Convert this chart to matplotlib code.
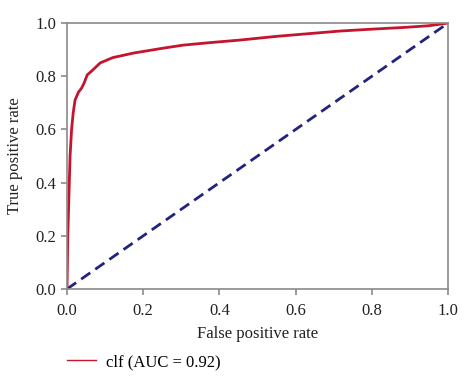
import numpy as np
import matplotlib.pyplot as plt
from matplotlib.lines import Line2D

# ROC curve
fpr = [0, 0.002, 0.005, 0.008, 0.012, 0.016, 0.021, 0.03, 0.038, 0.045, 0.053, 0.065,
       0.087, 0.12, 0.174, 0.25, 0.305, 0.38, 0.454, 0.55, 0.717, 0.8, 0.89, 0.95, 1.0]
tpr = [0, 0.2, 0.35, 0.5, 0.6, 0.66, 0.71, 0.74, 0.755, 0.775, 0.805, 0.82,
       0.85, 0.87, 0.887, 0.905, 0.917, 0.927, 0.936, 0.95, 0.97, 0.977, 0.984, 0.99, 1.0]
chance = [0, 1]
ticks = [0.0, 0.2, 0.4, 0.6, 0.8, 1.0]
label = "clf (AUC = 0.92)"

plt.rcParams['font.family'] = ['Liberation Serif', 'DejaVu Serif']
RED = '#c4142e'
NAVY = '#22227f'
GRAY = '#8a8a8a'

fig = plt.figure(figsize=(4.74, 3.86), dpi=100)
ax = fig.add_axes([0.1414, 0.2513, 0.804, 0.689])

ax.plot(fpr, tpr, color=RED, lw=2, solid_joinstyle='round')
ax.plot(chance, chance, color=NAVY, lw=2, ls=(0, (4, 2.2)))

ax.set_xlim(0, 1)
ax.set_ylim(0, 1)
ax.set_xticks(ticks)
ax.set_yticks(ticks)
ax.set_xticklabels([f"{t:.1f}" for t in ticks])
ax.set_yticklabels([f"{t:.1f}" for t in ticks])
for s in ax.spines.values():
    s.set_color(GRAY)
    s.set_linewidth(1.2)
ax.tick_params(colors=GRAY, labelcolor='#222222', labelsize=12, length=4, width=1.2)
ax.tick_params(axis='x', pad=6)
ax.tick_params(axis='y', pad=4)
ax.set_xlabel("False positive rate", fontsize=12, color='#222222', labelpad=5)
ax.set_ylabel("True positive rate", fontsize=12, color='#222222', labelpad=9)

handle = Line2D([], [], color=RED, lw=1)
fig.legend([handle], [label], loc='center left', bbox_to_anchor=(0.142, 0.062),
           frameon=False, fontsize=12, handlelength=1.7, handletextpad=0.6,
           borderpad=0, borderaxespad=0)

fig.savefig("out.png", dpi=100)
